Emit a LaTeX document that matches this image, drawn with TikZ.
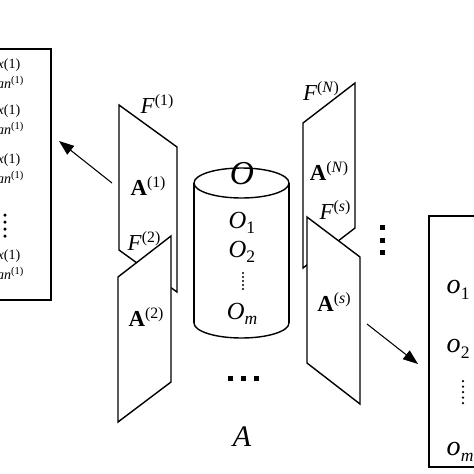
\documentclass[tikz,border=0pt]{standalone}
\usepackage{fontspec}
\setmainfont{Liberation Serif}
\usetikzlibrary{arrows.meta}
\newcommand{\upidx}[1]{\raisebox{0.75ex}{\fontsize{9}{10}\selectfont #1}}
\newcommand{\dnidx}[1]{\raisebox{-0.45ex}{\fontsize{10}{11}\selectfont #1}}
\begin{document}
\begin{tikzpicture}[x=0.02cm,y=-0.02cm,line width=0.8pt,
  panel/.style={draw,fill=white,line join=miter},
  lbl/.style={font=\fontsize{13}{15}\selectfont,inner sep=0pt},
  cyltxt/.style={font=\fontsize{14}{16}\selectfont,inner sep=0pt},
  boxtxt/.style={font=\fontsize{8}{9}\selectfont,inner sep=0pt,anchor=east},
  link/.style={line width=0.6pt,-{Triangle[length=0.3cm,width=0.22cm]}}]
\clip (0,0) rectangle (474,474);
%\draw[step=20,gray,very thin] (0,0) grid (474,474); %background grid
% left box (cut by the border)
\draw[line width=1pt] (-20,49) rectangle (51,300);
\foreach \y/\i in {65/1,111/2,160/3,256/n}{
  \node[boxtxt] (t\i) at (21,\y) {\textit{x}(1)};
  \node[boxtxt] (b\i) at (25,\y+17) {\textit{an}\textsuperscript{(1)}};
}
\foreach \y in {215,222,229,236} \fill (5,\y) circle (0.035cm);
% right box (cut by the border)
\draw[line width=1pt] (429,216) rectangle (500,467);
\node[cyltxt,font=\fontsize{16}{18}\selectfont,anchor=west] (o1) at (446,290) {\textit{o}\dnidx{1}};
\node[cyltxt,font=\fontsize{16}{18}\selectfont,anchor=west] (o2) at (446,349) {\textit{o}\dnidx{2}};
\foreach \y in {381,386.5,392,397.5,403} \fill (463,\y) circle (0.025cm);
\node[cyltxt,font=\fontsize{16}{18}\selectfont,anchor=west] (om) at (446,452) {\textit{o}\dnidx{\textit{m}}};
% panels on the left
\draw[panel] (119,105) -- (177,147) -- (177,292) -- (119,250) -- cycle;
\draw[panel] (118,277) -- (171,236) -- (171,382) -- (118,422) -- cycle;
\node[lbl] (f1) at (157,104) {\textit{F}\upidx{(1)}};
\node[lbl] (a1) at (148,186) {\textbf{A}\upidx{(1)}};
\node[lbl] (f2) at (144,241) {\textit{F}\upidx{(2)}};
\node[lbl] (a2) at (146,317) {\textbf{A}\upidx{(2)}};
% panels on the right
\draw[panel] (303,123) -- (355,83) -- (355,228) -- (303,268) -- cycle;
\draw[panel] (307,217) -- (360,257) -- (360,404) -- (307,363) -- cycle;
\node[lbl] (fN) at (321,91) {\textit{F}\upidx{(\textit{N})}};
\node[lbl] (aN) at (329,171) {\textbf{A}\upidx{(\textit{N})}};
\node[lbl] (fs) at (335,210) {\textit{F}\upidx{(\textit{s})}};
\node[lbl] (as) at (334,302) {\textbf{A}\upidx{(\textit{s})}};
% cylinder
\draw (241.5,183) ellipse [x radius=0.95cm,y radius=0.3cm];
\draw (194,183) -- (194,323);
\draw (289,183) -- (289,323);
\draw (194,323) arc [start angle=180,end angle=360,x radius=0.95cm,y radius=0.3cm];
\node[cyltxt,font=\fontsize{19}{21}\selectfont] (O) at (242,174) {\textit{O}};
\node[cyltxt] (O1) at (242,223) {\textit{O}\dnidx{1}};
\node[cyltxt] (O2) at (242,252) {\textit{O}\dnidx{2}};
\foreach \y in {273,277,281,285,289} \fill (243,\y) circle (0.022cm);
\node[cyltxt] (Om) at (242,314) {\textit{O}\dnidx{\textit{m}}};
% dots
\foreach \y in {227,240,252} \fill (379.5,{\y-2.5}) rectangle ++(5,5);
\foreach \x in {230,243,256} \fill ({\x-2.5},375.5) rectangle ++(5,5);
\node[cyltxt,font=\fontsize{17}{19}\selectfont] (A) at (242,437) {\textit{A}};
% arrows
\coordinate (l1) at (112,183);
\coordinate (l2) at (59,141);
\coordinate (r1) at (367,324);
\coordinate (r2) at (418,364);
\draw[link] (l1) -- (l2);
\draw[link] (r1) -- (r2);
\end{tikzpicture}
\end{document}
